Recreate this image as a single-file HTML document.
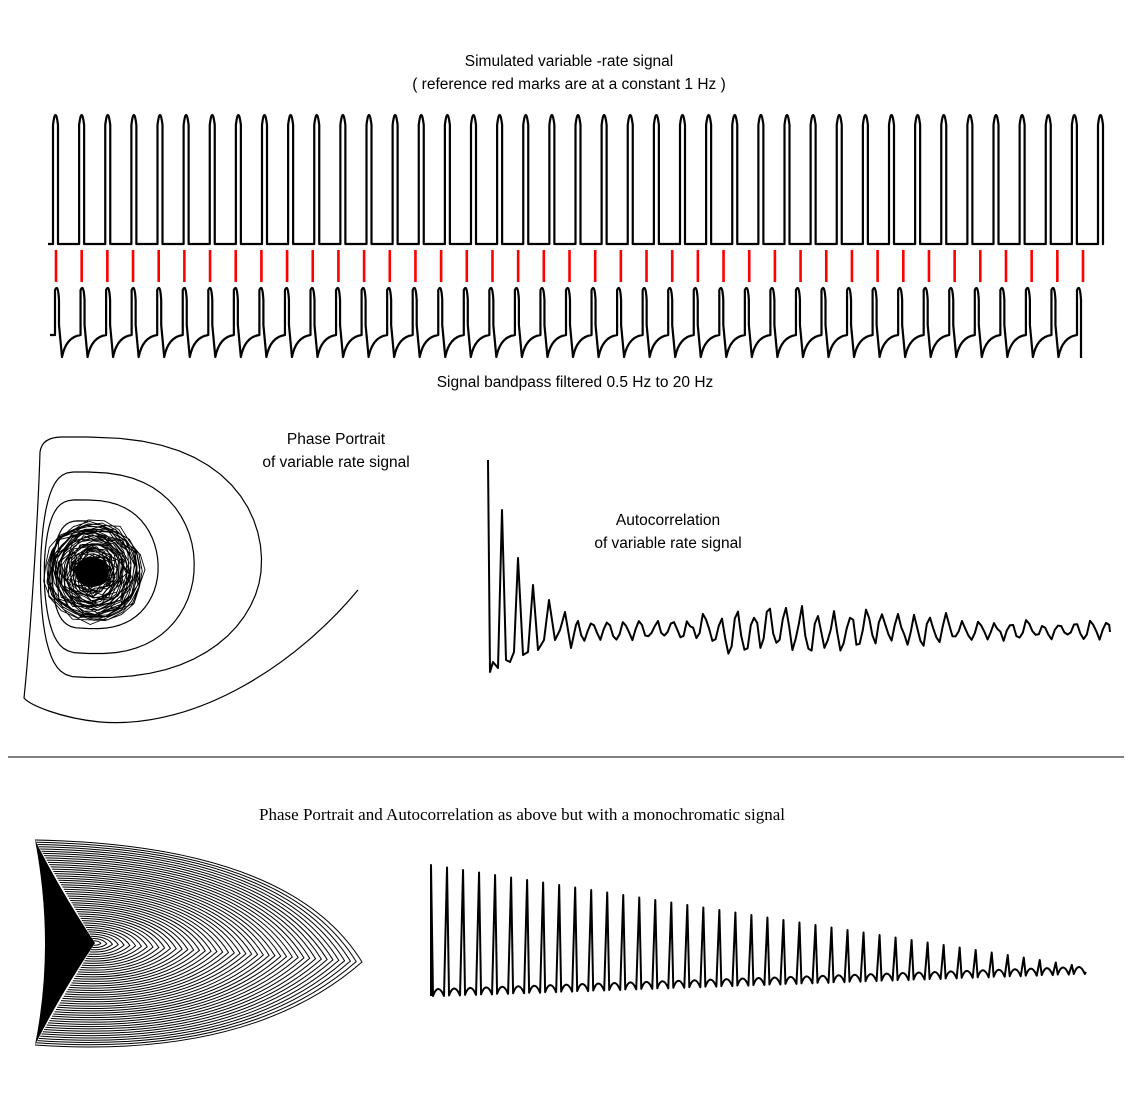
<!DOCTYPE html>
<html><head><meta charset="utf-8"><style>
html,body{margin:0;padding:0;background:#fff;}
svg{display:block;}
text{font-family:"Liberation Sans",sans-serif;font-size:15.5px;fill:#000;}
.serif{font-family:"Liberation Serif",serif;font-size:17px;}
</style></head><body>
<svg id="s" width="1144" height="1098" viewBox="0 0 1144 1098" xmlns="http://www.w3.org/2000/svg">
<rect width="1144" height="1098" fill="#fff"/>
<text x="569" y="66" text-anchor="middle">Simulated variable -rate signal</text>
<text x="569" y="89" text-anchor="middle">( reference red marks  are at a constant 1 Hz )</text>
<text x="575" y="387" text-anchor="middle">Signal bandpass filtered 0.5 Hz to 20 Hz</text>
<text x="336" y="444" text-anchor="middle">Phase Portrait</text>
<text x="336" y="467" text-anchor="middle">of variable rate signal</text>
<text x="668" y="525" text-anchor="middle">Autocorrelation</text>
<text x="668" y="548" text-anchor="middle">of variable rate signal</text>
<text class="serif" x="522" y="820" text-anchor="middle">Phase Portrait and Autocorrelation as above but with a monochromatic signal</text>
<line x1="8" y1="757" x2="1124" y2="757" stroke="#000" stroke-width="1"/>
<path d="M358 590C300 660 200 730 100 722C60 718 30 705 24 698C30 640 38 520 40 452Q42 437 62 437L88 437" fill="none" stroke="#000" stroke-width="1.2"/>
<g id="g"></g>
</svg>
<script>
(function(){
var g=document.getElementById('g'),out='';
function P(d,w,c,f){out+='<path d="'+d+'" fill="'+(f||'none')+'" stroke="'+(c||'#000')+'" stroke-width="'+w+'" stroke-linejoin="round"/>';}
function pts(a){return 'M'+a.map(function(p){return p[0].toFixed(1)+' '+p[1].toFixed(1)}).join('L');}
var d='M48 244',n=41,i,x;
for(i=0;i<n;i++){x=53+i*(1098-53)/(n-1);
 d+='L'+(x)+' 244L'+(x)+' 125Q'+(x+2.5)+' 105 '+(x+5)+' 125L'+(x+5)+' 244';}
d+='L1102 244';P(d,2.2);
for(i=0;i<41;i++){x=56+i*(1083-56)/40;P('M'+x+' 250L'+x+' 282',2.6,'#f00');}
d='M50 335L55 335';
for(i=0;i<41;i++){x=55+i*(1077-55)/40;
 d+='L'+x+' 290Q'+(x+3)+' 283 '+(x+4)+' 300L'+(x+4)+' 325';
 if(i<40){var nx=55+(i+1)*(1077-55)/40;d+='L'+(x+7)+' 357Q'+(x+11)+' 337 '+nx+' 335';}else{d+='L'+(x+4)+' 358';}}
P(d,2.2);
var A=[];
var loops=[[437,280,688,36],[472,204,667,42],[500,164,640,45],[521,140,617,55]];
var cx=88,cy=572;
for(var L=0;L<3;L++){var a=loops[L],b=loops[L+1];
 for(var t=0;t<=60;t++){var th=-Math.PI/2+ t/60*2*Math.PI, f=t/60;
  var T=a[0]+(b[0]-a[0])*f,R=a[1]+(b[1]-a[1])*f,B=a[2]+(b[2]-a[2])*f,Lf=a[3]+(b[3]-a[3])*f;
  var c=Math.cos(th),s=Math.sin(th);
  var xx=c>0?cx+(R-cx)*Math.pow(c,0.8):cx-(cx-Lf)*Math.pow(-c,0.5);
  var yy=s<0?cy+(cy-T)*s:cy+(B-cy)*s;
  A.push([xx,yy]);}}
P(pts(A),1.2);
var seed=3;function rnd(){seed=(seed*9301+49297)%233280;return seed/233280;}
A=[];
for(var k=0;k<900;k++){var th=k*0.33, r=48-k*0.045+rnd()*6; if(r<6)r=6+rnd()*8;
 A.push([92+r*0.95*Math.cos(th)+rnd()*3,570+r*Math.sin(th)+rnd()*3]);}
P(pts(A),0.9);
out+='<ellipse cx="92" cy="572" rx="17" ry="15" fill="#000"/>';
A=[[488,460],[490,672],[493,662],[498,668],[502,510],[506,660],[510,662],[514,652],[518,558],[523,655],[528,652],[533,585],[538,650],[544,640],[549,600],[555,640],[560,630],[565,612],[571,648],[576,625]];
for(x=578;x<=1110;x+=3.2){var amp;
 if(x<700)amp=8;else if(x<870)amp=18;else amp=6+(x<950?6:2);
 var y=630+amp*Math.sin(x*0.39)+(rnd()-0.5)*amp*0.9;
 A.push([x,y]);}
A.push([1110,632]);
P(pts(A),2);
out+='<path d="M35 840Q60 890 95 943Q60 995 35 1045Q55 945 35 840Z" fill="#000"/>';
for(var k=1;k<=46;k++){var f=k/46;
 var tx=95+(35-95)*f,ty=943+(840-943)*f,bx=95+(35-95)*f,by=943+(1045-943)*f;
 var rx=95+(362-95)*f,ry=943+(962-943)*f;
 out+='<path d="M'+tx+' '+ty+'Q'+(95+(290-95)*f)+' '+(943+(845-943)*f)+' '+rx+' '+ry+'Q'+(95+(250-95)*f)+' '+(943+(1060-943)*f)+' '+bx+' '+by+'" fill="none" stroke="#000" stroke-width="1"/>';}
d='M431 996L431 865';
for(i=0;i<41;i++){x=431+i*16.02;var tp=865+i*2.5,base=996-i*0.55;
 if(i>0)d+='L'+x+' '+tp;
 d+='L'+(x+2)+' '+base+'Q'+(x+7)+' '+(base-14)+' '+(x+13)+' '+base;}
d+='L1086 972';
P(d,2);
g.innerHTML=out;
})();
</script>
</body></html>
